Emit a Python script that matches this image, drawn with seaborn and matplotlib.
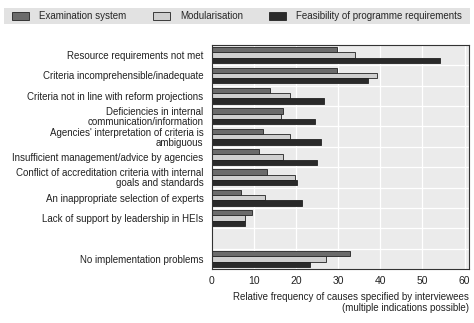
import matplotlib
matplotlib.use("Agg")
import matplotlib.pyplot as plt
import numpy as np
import pandas as pd
import seaborn as sns
from matplotlib.patches import Patch, Rectangle

categories = [
    "Resource requirements not met",
    "Criteria incomprehensible/inadequate",
    "Criteria not in line with reform projections",
    "Deficiencies in internal\ncommunication/information",
    "Agencies' interpretation of criteria is\nambiguous",
    "Insufficient management/advice by agencies",
    "Conflict of accreditation criteria with internal\ngoals and standards",
    "An inappropriate selection of experts",
    "Lack of support by leadership in HEIs",
    " ",
    "No implementation problems",
]
series = ["Examination system", "Modularisation", "Feasibility of programme requirements"]
examination = [29.7, 29.7, 13.9, 17.0, 12.2, 11.1, 13.2, 6.9, 9.5, np.nan, 32.9]
modularisation = [34.0, 39.3, 18.5, 16.4, 18.5, 17.0, 19.7, 12.7, 7.8, np.nan, 27.0]
feasibility = [54.2, 37.1, 26.6, 24.4, 26.0, 25.0, 20.2, 21.3, 7.9, np.nan, 23.4]
colors = ["#6b6b6b", "#cfcfcf", "#2a2a2a"]

df = pd.DataFrame({
    "cause": categories * 3,
    "series": [s for s in series for _ in categories],
    "value": examination + modularisation + feasibility,
})

sns.set_theme(style="darkgrid")
plt.rcParams["font.family"] = ["Liberation Sans Narrow", "Liberation Sans", "DejaVu Sans"]

fig = plt.figure(figsize=(4.74, 3.23), dpi=100)
ax = fig.add_axes([0.447, 0.167, 0.542, 0.694])
ax.set_facecolor("#ebebeb")

sns.barplot(
    data=df, y="cause", x="value", hue="series", orient="h",
    palette=colors, order=categories, hue_order=series,
    width=0.78, edgecolor="#222222", linewidth=0.6, legend=False, ax=ax,
)

ax.set_xlim(0, 61)
ax.set_xticks(range(0, 61, 10))
ax.set_ylim(len(categories) - 0.5, -0.5)
ax.set_yticks(np.arange(len(categories)) + 0.5, minor=True)
ax.grid(False)
ax.grid(axis="x", which="major", color="white", linewidth=0.9)
ax.grid(axis="y", which="minor", color="white", linewidth=0.9)
ax.set_axisbelow(True)
for s in ax.spines.values():
    s.set_visible(True)
    s.set_color("#333333")
    s.set_linewidth(0.8)

ax.tick_params(axis="y", which="both", length=0, labelsize=7, pad=6, colors="#222222")
ax.tick_params(axis="x", length=0, labelsize=7.5, pad=5, colors="#222222")
for lab in ax.get_yticklabels():
    lab.set_multialignment("right")
    lab.set_linespacing(1.0)
ax.set_ylabel("")
ax.set_xlabel("Relative frequency of causes specified by interviewees\n(multiple indications possible)",
              fontsize=7, ha="right", x=1.0, color="#222222", labelpad=4)
ax.xaxis.label.set_multialignment("right")

# grey legend band across the top
fig.patches.append(Rectangle((4 / 474, 1 - 24 / 323), 466 / 474, 16 / 323,
                             transform=fig.transFigure, facecolor="#e2e2e2",
                             edgecolor="none", zorder=0))
handles = [Patch(facecolor=c, edgecolor="#222222", linewidth=0.6) for c in colors]
leg = fig.legend(handles, series, loc="center left", ncol=3,
                 bbox_to_anchor=(12 / 474, 1 - 16 / 323), frameon=False,
                 fontsize=7, handlelength=1.75, handleheight=0.9, handletextpad=1.05,
                 columnspacing=2.7, borderaxespad=0, borderpad=0)

fig.savefig("out.png", dpi=100, facecolor="white")
